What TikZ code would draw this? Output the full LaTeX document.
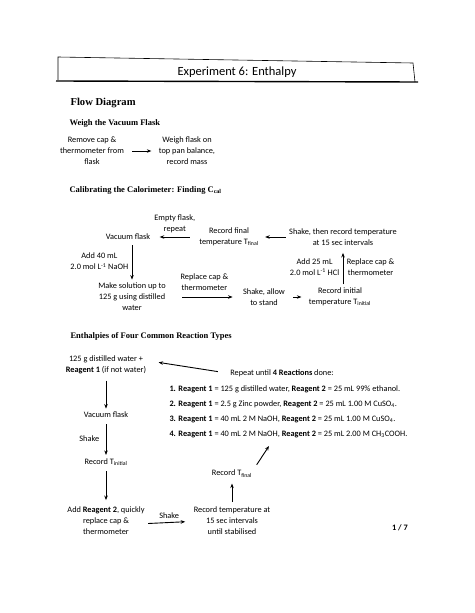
\documentclass[tikz,border=0pt]{standalone}
\usepackage{fontspec}
\setmainfont{Carlito}
\newfontfamily\headfont{Liberation Serif}
\usetikzlibrary{arrows.meta,positioning}

\begin{document}
\begin{tikzpicture}[x=1pt,y=-1pt,node distance=60pt,
    txt/.style={align=center,font=\fontsize{8.3}{11}\selectfont},
    head/.style={anchor=west,font=\headfont\bfseries\fontsize{8.5}{10}\selectfont},
    arr/.style={-{Stealth[length=4.5pt,width=3.5pt]},line width=0.9pt}]
    \useasboundingbox (0,0) rectangle (474,613);

    \draw[line width=0.6pt] (58,80) -- (58,57) -- (413,63) -- (415,82);
    \draw[line width=1.4pt] (56,81) -- (418,82);
    \node[font=\fontsize{12.5}{14}\selectfont] (title) at (237,72) {Experiment 6: Enthalpy};

    \node[head,font=\headfont\bfseries\fontsize{10.6}{12}\selectfont] (flow) at (67,103) {Flow Diagram};
    \node[head] (weighhead) at (66,123) {Weigh the Vacuum Flask};
    \node[head] (calhead) at (66,190) {Calibrating the Calorimeter: Finding C\textsubscript{cal}};
    \node[head] (reachead) at (67,336) {Enthalpies of Four Common Reaction Types};

    \node[txt] (remove) at (92,151) {Remove cap \&\\thermometer from\\flask};
    \node[txt] (weigh) [right of=remove, xshift=35pt] {Weigh flask on\\top pan balance,\\record mass};

    \node[txt] (vac) at (128,237) {Vacuum flask};
    \node[txt] (recfinal) [right of=vac, xshift=41pt] {Record final\\temperature T\textsubscript{final}};
    \node[txt] (shakerec) [right of=recfinal, xshift=54pt] {Shake, then record temperature\\at 15 sec intervals};
    \node[txt] (make) [below of=vac, xshift=4pt] {Make solution up to\\125 g using distilled\\water};
    \node[txt] (shakestand) [right of=make, xshift=72pt] {Shake, allow\\to stand};
    \node[txt] (recinit) [right of=shakestand, xshift=16pt] {Record initial\\temperature T\textsubscript{initial}};

    \node[txt] (water) at (106,365) {125 g distilled water +\\\textbf{Reagent 1} (if not water)};
    \node[txt] (rpt) [right of=water, xshift=116pt, yshift=-8pt] {Repeat until \textbf{4 Reactions} done:};
    \node[txt,align=left,anchor=west,font=\fontsize{8.3}{15}\selectfont] (items) at (166,411.5) {\textbf{1. Reagent 1} = 125 g distilled water, \textbf{Reagent 2} = 25 mL 99\% ethanol.\\
        \textbf{2. Reagent 1} = 2.5 g Zinc powder, \textbf{Reagent 2} = 25 mL 1.00 M CuSO\textsubscript{4}.\\
        \textbf{3. Reagent 1} = 40 mL 2 M NaOH, \textbf{Reagent 2} = 25 mL 1.00 M CuSO\textsubscript{4}.\\
        \textbf{4. Reagent 1} = 40 mL 2 M NaOH, \textbf{Reagent 2} = 25 mL 2.00 M CH\textsubscript{3}COOH.};
    \node[txt] (vac2) [below of=water, yshift=10pt] {Vacuum flask};
    \node[txt] (recinit2) [below of=vac2, yshift=13pt] {Record T\textsubscript{initial}};
    \node[txt] (addr2) [below of=recinit2, yshift=1.5pt] {Add \textbf{Reagent 2}, quickly\\replace cap \&\\thermometer};
    \node[txt] (rectemp) [right of=addr2, xshift=66pt] {Record temperature at\\15 sec intervals\\until stabilised};
    \node[txt] (recfinal2) [above of=rectemp, yshift=-13pt] {Record T\textsubscript{final}};
    \coordinate (back) at (269,446);

    \node[font=\bfseries\fontsize{8.3}{10}\selectfont] (page) at (400,528) {1 / 7};

    \draw[arr,shorten <=5pt,shorten >=4pt] (remove) -- (weigh);

    \draw[arr,shorten <=6pt,shorten >=6pt] (recfinal) -- node[above,txt] (empty) {Empty flask,\\repeat} (vac);
    \draw[arr,shorten >=3pt] (shakerec) -- (recfinal);
    \draw[arr,shorten <=2pt] (make.north |- vac.south) -- node[left,txt] (naoh) {Add 40 mL\\2.0 mol L\textsuperscript{-1} NaOH} (make.north);
    \draw[arr,shorten <=13pt,shorten >=7pt] (make) -- node[above,txt,yshift=3pt] (cap1) {Replace cap \&\\thermometer} (shakestand);
    \draw[arr,shorten <=5pt,shorten >=4pt] (shakestand) -- (recinit);
    \draw[arr,shorten >=4pt] (recinit.north -| shakerec.south) -- node[left,txt] (hcl) {Add 25 mL\\2.0 mol L\textsuperscript{-1} HCl} node[right,txt] (cap2) {Replace cap \&\\thermometer} (shakerec.south);

    \draw[arr,shorten <=9pt,shorten >=9pt] (rpt.west) -- ([yshift=4pt]water.east);
    \draw[arr,shorten <=3pt] (water) -- (vac2);
    \draw[arr,shorten <=3pt] (vac2) -- node[left,txt,xshift=-3pt] (shk1) {Shake} (recinit2);
    \draw[arr,shorten <=2pt,shorten >=3pt] (recinit2) -- (addr2);
    \draw[arr,shorten >=5pt] ([yshift=-3pt]addr2.east) -- node[above,txt] (shk2) {Shake} ([yshift=-1pt]rectemp.west);
    \draw[arr,shorten <=1pt,shorten >=3pt] (rectemp) -- (recfinal2);
    \draw[arr,shorten <=2pt] (recfinal2.north east) -- (back);
\end{tikzpicture}
\end{document}
